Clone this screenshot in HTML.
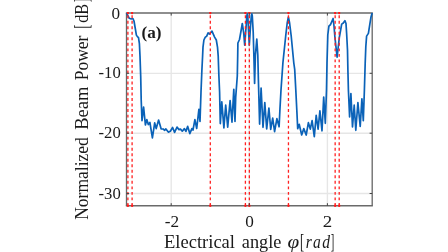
<!DOCTYPE html>
<html><head><meta charset="utf-8"><title>Normalized Beam Power</title>
<style>html,body{margin:0;padding:0;background:#fff;}body{width:448px;height:252px;overflow:hidden;}svg{display:block;}text{font-family:"Liberation Serif","DejaVu Serif",serif;fill:#1a1a1a;}</style></head><body>
<svg width="448" height="252" viewBox="0 0 448 252">
<rect width="448" height="252" fill="#fff"/>
<line x1="171.2" y1="13.0" x2="171.2" y2="205.8" stroke="#e6e6e6" stroke-width="1.35"/>
<line x1="249.3" y1="13.0" x2="249.3" y2="205.8" stroke="#e6e6e6" stroke-width="1.35"/>
<line x1="327.4" y1="13.0" x2="327.4" y2="205.8" stroke="#e6e6e6" stroke-width="1.35"/>
<line x1="126.5" y1="73.3" x2="372.2" y2="73.3" stroke="#e6e6e6" stroke-width="1.35"/>
<line x1="126.5" y1="133.2" x2="372.2" y2="133.2" stroke="#e6e6e6" stroke-width="1.35"/>
<line x1="126.5" y1="193.5" x2="372.2" y2="193.5" stroke="#e6e6e6" stroke-width="1.35"/>
<path d="M125.85,13.0 H372.84999999999997 M125.85,205.8 H372.84999999999997" fill="none" stroke="#6a6a6a" stroke-width="1.55"/>
<path d="M126.5,13.0 V205.8 M372.2,13.0 V205.8" fill="none" stroke="#666" stroke-width="1.3"/>
<path d="M126.9,13.7 L128.0,15.8 L129.3,18.3 L131.2,19.0 L132.9,18.5 L134.0,21.0 L135.2,28.0 L136.4,35.1 L137.4,36.6 L138.5,37.6 L139.4,43.7 L140.0,56.0 L140.7,76.0 L141.2,100.0 L142.0,120.7 L143.6,107.1 L145.4,125.0 L146.8,119.6 L148.3,124.6 L149.9,122.5 L152.4,137.9 L154.7,122.9 L156.2,128.6 L158.6,120.0 L161.1,128.8 L163.2,129.0 L164.7,130.3 L165.9,128.9 L168.3,132.1 L170.3,131.2 L172.6,127.5 L174.6,132.3 L177.0,127.1 L179.0,129.6 L180.5,129.1 L182.3,131.2 L184.4,128.6 L185.9,131.4 L187.7,126.4 L189.8,133.6 L191.9,128.6 L193.0,130.0 L194.9,119.6 L196.7,128.5 L198.9,109.3 L200.0,121.4 L201.0,92.0 L201.9,70.0 L202.6,56.0 L203.0,47.1 L203.9,40.0 L205.3,37.1 L206.7,36.2 L208.1,32.9 L209.6,34.0 L212.0,31.1 L213.4,34.3 L214.6,37.1 L216.3,40.0 L217.5,47.1 L218.2,56.0 L218.9,76.0 L219.6,92.0 L220.3,123.6 L221.8,101.8 L223.9,127.9 L225.7,105.0 L227.7,127.1 L230.1,100.6 L232.0,122.1 L233.8,89.4 L235.0,121.4 L235.7,97.4 L237.3,76.0 L237.7,56.0 L237.9,43.0 L239.5,39.5 L241.1,30.5 L242.3,23.5 L243.7,32.9 L244.7,45.1 L246.0,28.0 L246.8,16.0 L247.3,13.8 L247.8,16.0 L248.4,28.0 L249.3,45.1 L250.4,28.0 L251.3,16.0 L251.8,13.8 L252.3,16.0 L253.2,32.0 L254.0,60.0 L254.6,83.4 L255.4,55.0 L256.8,39.0 L257.8,55.0 L258.4,80.0 L259.6,124.1 L261.1,88.1 L263.0,127.3 L264.8,102.6 L266.7,128.9 L268.9,108.0 L270.7,129.4 L272.7,118.2 L274.6,131.6 L276.9,118.7 L279.1,126.8 L280.0,108.0 L281.0,90.0 L282.9,63.0 L285.7,36.0 L287.2,23.0 L288.4,17.0 L289.6,23.0 L291.2,36.0 L293.8,63.0 L294.7,69.4 L295.8,90.0 L296.9,112.0 L297.7,128.6 L299.2,124.3 L301.7,135.0 L303.8,128.6 L306.2,135.0 L308.4,122.7 L310.3,129.1 L312.1,120.6 L314.3,136.7 L316.2,115.4 L318.1,129.1 L319.9,110.9 L322.0,130.8 L323.7,97.0 L325.3,123.3 L326.5,90.0 L327.0,63.0 L327.8,35.0 L328.9,26.2 L330.5,24.6 L333.1,18.5 L334.0,26.0 L334.9,37.0 L337.1,57.2 L339.4,37.0 L340.3,32.0 L341.7,24.1 L343.3,23.0 L344.9,20.6 L346.0,23.5 L346.6,33.0 L347.5,50.0 L347.9,70.0 L348.4,90.0 L349.6,116.9 L350.9,93.5 L352.5,127.0 L354.2,105.2 L355.8,130.3 L357.9,102.5 L360.2,126.5 L361.9,98.9 L363.3,120.6 L364.4,90.0 L365.2,63.0 L365.8,47.0 L366.6,36.1 L368.4,33.4 L370.0,23.2 L371.0,17.0 L372.0,13.6" fill="none" stroke="#0a62b8" stroke-width="1.7" stroke-linejoin="round" stroke-linecap="round"/>
<clipPath id="c"><rect x="120" y="12" width="260" height="195"/></clipPath><g clip-path="url(#c)">
<line x1="127.9" y1="9.75" x2="127.9" y2="207" stroke="#ff2020" stroke-width="1.3" stroke-dasharray="2.9 2.62"/>
<circle cx="127.9" cy="13.1" r="1.2" fill="#ff1a1a"/><circle cx="127.9" cy="205.7" r="1.2" fill="#ff1a1a"/>
<line x1="132.1" y1="9.75" x2="132.1" y2="207" stroke="#ff2020" stroke-width="1.3" stroke-dasharray="2.9 2.62"/>
<circle cx="132.1" cy="13.1" r="1.2" fill="#ff1a1a"/><circle cx="132.1" cy="205.7" r="1.2" fill="#ff1a1a"/>
<line x1="210.3" y1="9.75" x2="210.3" y2="207" stroke="#ff2020" stroke-width="1.3" stroke-dasharray="2.9 2.62"/>
<circle cx="210.3" cy="13.1" r="1.2" fill="#ff1a1a"/><circle cx="210.3" cy="205.7" r="1.2" fill="#ff1a1a"/>
<line x1="245.4" y1="9.75" x2="245.4" y2="207" stroke="#ff2020" stroke-width="1.3" stroke-dasharray="2.9 2.62"/>
<circle cx="245.4" cy="13.1" r="1.2" fill="#ff1a1a"/><circle cx="245.4" cy="205.7" r="1.2" fill="#ff1a1a"/>
<line x1="249.35" y1="9.75" x2="249.35" y2="207" stroke="#ff2020" stroke-width="1.3" stroke-dasharray="2.9 2.62"/>
<circle cx="249.35" cy="13.1" r="1.2" fill="#ff1a1a"/><circle cx="249.35" cy="205.7" r="1.2" fill="#ff1a1a"/>
<line x1="288.45" y1="9.75" x2="288.45" y2="207" stroke="#ff2020" stroke-width="1.3" stroke-dasharray="2.9 2.62"/>
<circle cx="288.45" cy="13.1" r="1.2" fill="#ff1a1a"/><circle cx="288.45" cy="205.7" r="1.2" fill="#ff1a1a"/>
<line x1="335.15" y1="9.75" x2="335.15" y2="207" stroke="#ff2020" stroke-width="1.3" stroke-dasharray="2.9 2.62"/>
<circle cx="335.15" cy="13.1" r="1.2" fill="#ff1a1a"/><circle cx="335.15" cy="205.7" r="1.2" fill="#ff1a1a"/>
<line x1="339.2" y1="9.75" x2="339.2" y2="207" stroke="#ff2020" stroke-width="1.3" stroke-dasharray="2.9 2.62"/>
<circle cx="339.2" cy="13.1" r="1.2" fill="#ff1a1a"/><circle cx="339.2" cy="205.7" r="1.2" fill="#ff1a1a"/>
</g>
<line x1="171.2" y1="205.8" x2="171.2" y2="203.20000000000002" stroke="#444" stroke-width="1"/>
<line x1="171.2" y1="13.0" x2="171.2" y2="15.6" stroke="#444" stroke-width="1"/>
<line x1="249.3" y1="205.8" x2="249.3" y2="203.20000000000002" stroke="#444" stroke-width="1"/>
<line x1="249.3" y1="13.0" x2="249.3" y2="15.6" stroke="#444" stroke-width="1"/>
<line x1="327.4" y1="205.8" x2="327.4" y2="203.20000000000002" stroke="#444" stroke-width="1"/>
<line x1="327.4" y1="13.0" x2="327.4" y2="15.6" stroke="#444" stroke-width="1"/>
<line x1="126.5" y1="73.3" x2="129.1" y2="73.3" stroke="#444" stroke-width="1"/>
<line x1="372.2" y1="73.3" x2="369.59999999999997" y2="73.3" stroke="#444" stroke-width="1"/>
<line x1="126.5" y1="133.2" x2="129.1" y2="133.2" stroke="#444" stroke-width="1"/>
<line x1="372.2" y1="133.2" x2="369.59999999999997" y2="133.2" stroke="#444" stroke-width="1"/>
<line x1="126.5" y1="193.5" x2="129.1" y2="193.5" stroke="#444" stroke-width="1"/>
<line x1="372.2" y1="193.5" x2="369.59999999999997" y2="193.5" stroke="#444" stroke-width="1"/>
<text transform="translate(111.55,18.8) scale(1.043,1)" font-size="16.5" >0</text>
<text transform="translate(98.57,78.4) scale(1.012,1)" font-size="16.5" >-10</text>
<text transform="translate(98.57,138.4) scale(1.012,1)" font-size="16.5" >-20</text>
<text transform="translate(98.57,198.7) scale(1.012,1)" font-size="16.5" >-30</text>
<text transform="translate(164.65,226.5) scale(1.045,1)" font-size="16.5" >-2</text>
<text transform="translate(245.15,226.5) scale(1.043,1)" font-size="16.5" >0</text>
<text transform="translate(322.74,226.5) scale(1.147,1)" font-size="16.5" >2</text>
<text transform="translate(141.50,38.2) scale(1.072,1)" font-size="16.0" font-weight="bold">(a)</text>
<text transform="translate(164.01,247.6) scale(0.986,1)" font-size="18.8" >Electrical</text>
<text transform="translate(241.79,247.6) scale(0.973,1)" font-size="18.8" >angle</text>
<text transform="translate(287.60,247.6) scale(1.124,1)" font-size="18.8" font-style="italic">φ</text>
<text transform="translate(299.89,247.6) scale(0.659,1.12)" font-size="18.8" >[</text>
<text transform="translate(305.68,247.6) scale(0.828,1)" font-size="18.8" font-style="italic" letter-spacing="1.6">rad</text>
<text transform="translate(330.85,247.6) scale(0.565,1.12)" font-size="18.8" >]</text>
<text transform="translate(88.4,219.87) rotate(-90) scale(0.933,1)" font-size="18.8" >Normalized</text>
<text transform="translate(88.4,129.79) rotate(-90) scale(0.986,1)" font-size="18.8" >Beam</text>
<text transform="translate(88.4,80.26) rotate(-90) scale(0.929,1)" font-size="18.8" >Power</text>
<text transform="translate(88.4,28.44) rotate(-90) scale(0.612,1.12)" font-size="18.8" >[</text>
<text transform="translate(88.4,22.84) rotate(-90) scale(0.869,1)" font-size="18.8" >dB</text>
<text transform="translate(88.4,2.28) rotate(-90) scale(0.612,1.12)" font-size="18.8" >]</text>
</svg></body></html>
